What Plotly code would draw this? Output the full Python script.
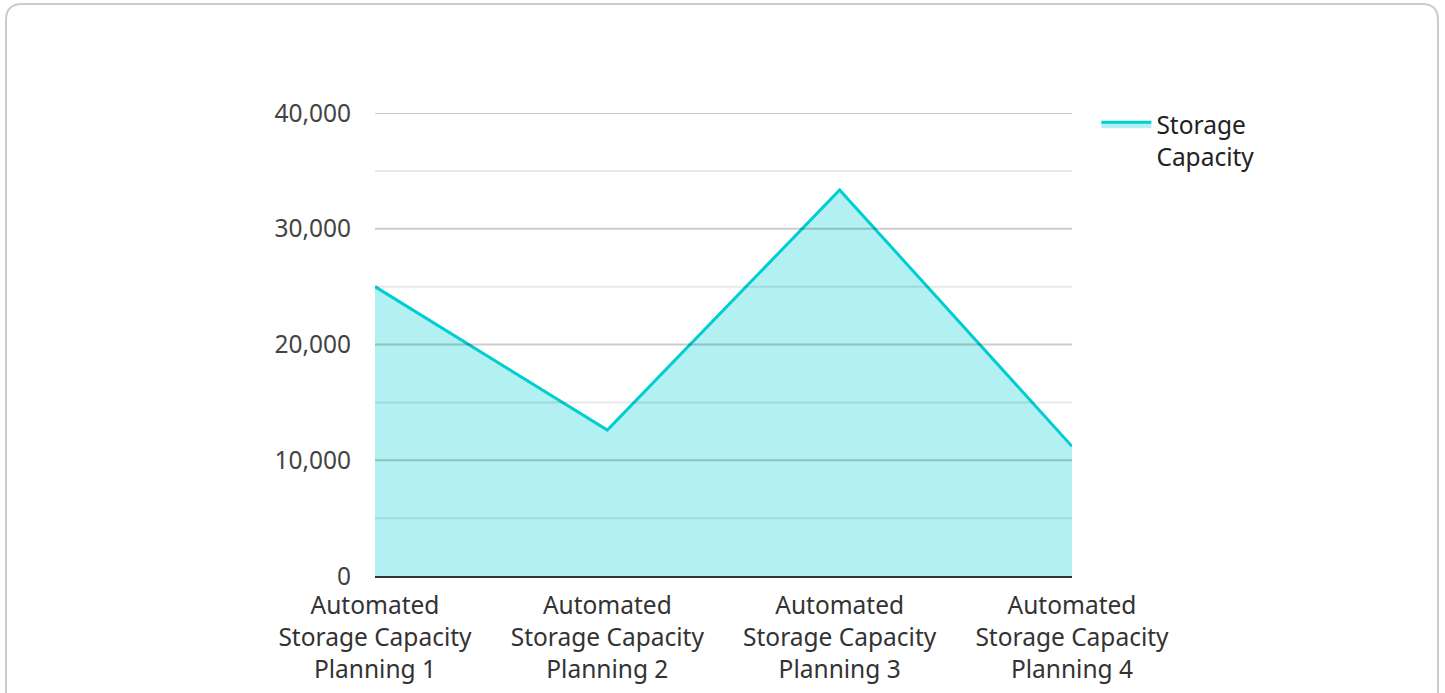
import plotly.graph_objects as go

categories = ["Automated<br>Storage Capacity<br>Planning 1",
              "Automated<br>Storage Capacity<br>Planning 2",
              "Automated<br>Storage Capacity<br>Planning 3",
              "Automated<br>Storage Capacity<br>Planning 4"]
storage_capacity = [25000, 12600, 33350, 11200]
series_name = "Storage<br>Capacity"
y_ticks = [0, 10000, 20000, 30000, 40000]
y_minor_ticks = [5000, 15000, 25000, 35000]

W, H = 1445, 693
L, R, T, B = 375, 373, 113, 117
pw, ph = W - L - R, H - T - B

def px(x):
    return (x - L) / pw

def py(y):
    return (H - B - y) / ph

fig = go.Figure()
fig.add_trace(go.Scatter(
    x=list(range(len(categories))), y=storage_capacity, name=series_name,
    mode="lines", fill="tozeroy",
    line=dict(color="#00CED1", width=3),
    fillcolor="rgba(0,206,209,0.3)",
    showlegend=True,
))

# gridlines drawn over the area fill
for v in y_ticks[1:]:
    fig.add_shape(type="line", xref="paper", yref="y", x0=0, x1=1, y0=v, y1=v,
                  line=dict(color="rgba(0,0,0,0.2)", width=2), layer="above")
for v in y_minor_ticks:
    fig.add_shape(type="line", xref="paper", yref="y", x0=0, x1=1, y0=v, y1=v,
                  line=dict(color="rgba(0,0,0,0.09)", width=2), layer="above")

# card border
x0, x1, y0, y1, r = 6, 1438, 4, 720, 16
path = (f"M {px(x0)},{py(y1)} L {px(x0)},{py(y0 + r)} "
        f"Q {px(x0)},{py(y0)} {px(x0 + r)},{py(y0)} "
        f"L {px(x1 - r)},{py(y0)} Q {px(x1)},{py(y0)} {px(x1)},{py(y0 + r)} "
        f"L {px(x1)},{py(y1)}")
fig.add_shape(type="path", path=path, xref="paper", yref="paper",
              line=dict(color="#cccccc", width=2), layer="below")

fig.update_layout(
    width=W, height=H,
    margin=dict(l=L, r=R, t=T, b=B, pad=0, autoexpand=False),
    paper_bgcolor="white", plot_bgcolor="white",
    font=dict(family="Noto Sans", size=24.5, color="#333333"),
    legend=dict(x=1.035, y=1.024, xanchor="left", yanchor="top",
                itemwidth=50, valign="top",
                font=dict(size=24.5, color="#222222"), bgcolor="rgba(0,0,0,0)"),
    xaxis=dict(
        tickmode="array", tickvals=list(range(len(categories))), ticktext=categories,
        range=[0, len(categories) - 1], showgrid=False, zeroline=False,
        showline=True, linecolor="#333333", linewidth=2, automargin=False,
        ticks="outside", ticklen=7, tickcolor="rgba(0,0,0,0)",
        tickfont=dict(size=24.5, color="#333333"),
    ),
    yaxis=dict(
        range=[0, 40000], tickvals=y_ticks, tickformat=",", automargin=False,
        showgrid=False, zeroline=False, showline=False,
        ticks="outside", ticklen=18, tickcolor="rgba(0,0,0,0)",
        tickfont=dict(size=24.5, color="#444444"),
    ),
)

fig.write_html("out.html", config={"displayModeBar": False},
               post_script="document.body.style.margin='0';")
